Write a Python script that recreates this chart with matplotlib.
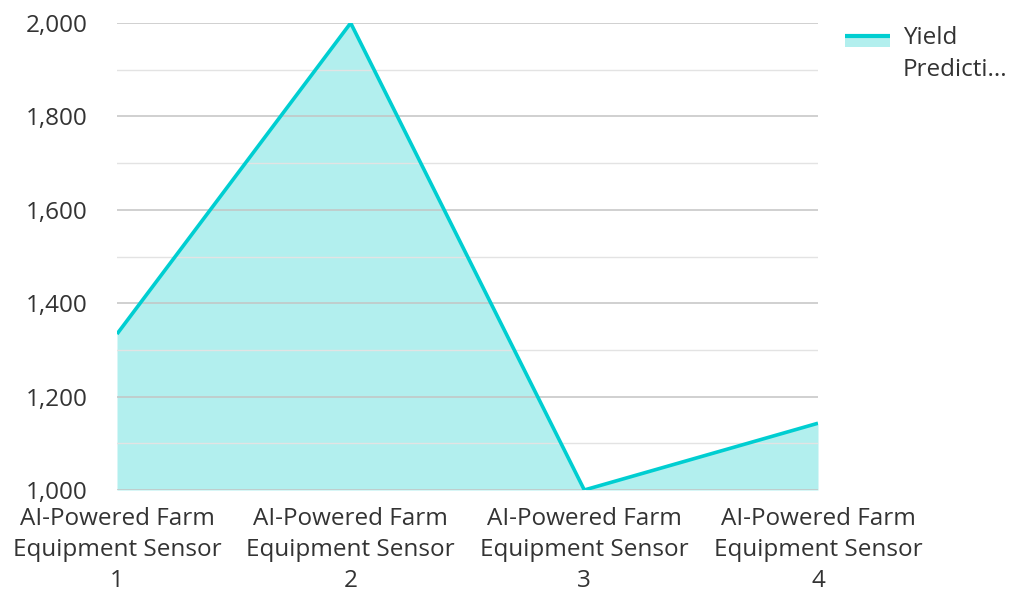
import matplotlib
matplotlib.use("Agg")
import matplotlib.pyplot as plt
from matplotlib.patches import Rectangle
from matplotlib.lines import Line2D

plt.rcParams['font.family'] = ['Open Sans', 'DejaVu Sans']

categories = [
    "AI-Powered Farm\nEquipment Sensor\n1",
    "AI-Powered Farm\nEquipment Sensor\n2",
    "AI-Powered Farm\nEquipment Sensor\n3",
    "AI-Powered Farm\nEquipment Sensor\n4",
]
yield_prediction = [1334, 2000, 1000, 1143]
y_ticks = [1000, 1200, 1400, 1600, 1800, 2000]
y_minor = [1100, 1300, 1500, 1700, 1900]
series_name = "Yield\nPredicti..."

line_color = "#00CED1"
fill_color = "#B2EFEE"
text_color = "#333333"
fs = 17.5

W, H = 1010, 594
fig = plt.figure(figsize=(W / 100, H / 100), dpi=100)
ax = fig.add_axes([117 / W, 1 - 490 / H, (818 - 117) / W, (490 - 23) / H])

x = list(range(len(categories)))
ax.fill_between(x, yield_prediction, 1000, color=fill_color, lw=0, zorder=1)
ax.plot(x, yield_prediction, color=line_color, lw=2.6, zorder=3,
        solid_capstyle='butt')

ax.set_xlim(0, len(categories) - 1)
ax.set_ylim(1000, 2000)
ax.set_yticks(y_ticks)
ax.set_yticklabels([f"{v:,}" for v in y_ticks])
ax.set_yticks(y_minor, minor=True)
ax.set_xticks(x)
ax.set_xticklabels(categories, linespacing=1.37)

ax.grid(axis='y', which='major', color='#c4c4c4', lw=1.1, zorder=2)
ax.grid(axis='y', which='minor', color='#e3e3e3', lw=1.0, zorder=2)
ax.set_axisbelow(False)
for s in ax.spines.values():
    s.set_visible(False)
ax.tick_params(axis='both', which='both', length=0, labelsize=fs,
               labelcolor=text_color)
ax.tick_params(axis='y', pad=21)
ax.tick_params(axis='x', pad=12.5)

# legend: filled swatch with the line along its top edge, label beside it
fig.add_artist(Rectangle((845 / W, 1 - 47 / H), 45 / W, 11 / H,
                         transform=fig.transFigure, facecolor=fill_color,
                         lw=0))
fig.add_artist(Line2D([845 / W, 890 / W], [1 - 36 / H, 1 - 36 / H],
                      transform=fig.transFigure, color=line_color, lw=3,
                      solid_capstyle='butt'))
fig.text(903 / W, 1 - 26 / H, series_name, fontsize=fs, color=text_color,
         va='top', ha='left', linespacing=1.43)

fig.savefig("out.png", dpi=100)
